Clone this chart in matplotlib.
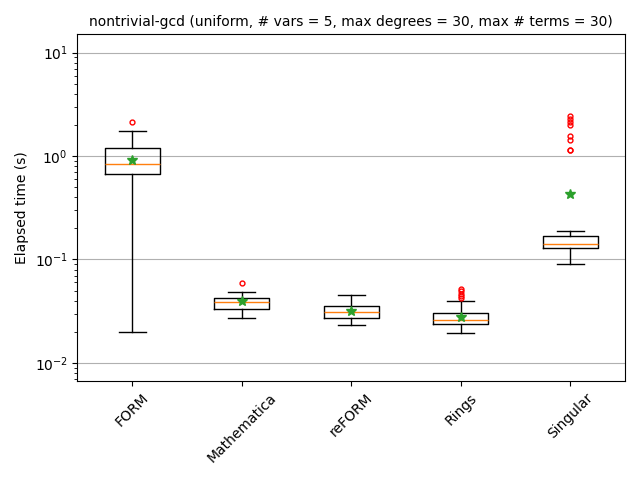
import matplotlib
matplotlib.use("Agg")
from matplotlib import pyplot as plt

programs = ["FORM", "Mathematica", "reFORM", "Rings", "Singular"]
whislo = [0.020, 0.0274, 0.0231, 0.0193, 0.090]
q1 = [0.67, 0.0335, 0.0274, 0.0236, 0.129]
med = [0.84, 0.0392, 0.0313, 0.0262, 0.140]
q3 = [1.19, 0.0428, 0.0358, 0.0304, 0.167]
whishi = [1.75, 0.049, 0.0451, 0.0401, 0.187]
means = [0.91, 0.0395, 0.0315, 0.0278, 0.426]
fliers = [
    [2.13],
    [0.0599],
    [],
    [0.0524, 0.0495, 0.0465, 0.0440, 0.0420],
    [2.45, 2.28, 2.12, 1.98, 1.56, 1.43, 1.15, 1.14],
]

stats = []
for i, name in enumerate(programs):
    stats.append({'label': name, 'whislo': whislo[i], 'q1': q1[i], 'med': med[i],
                  'q3': q3[i], 'whishi': whishi[i], 'mean': means[i], 'fliers': fliers[i]})

fig, ax = plt.subplots(figsize=(6.4, 4.8))
ax.bxp(stats, showmeans=True,
       flierprops=dict(marker='o', markeredgecolor='red', markerfacecolor='none', markersize=3.5),
       meanprops=dict(marker='*', markerfacecolor='tab:green', markeredgecolor='tab:green', markersize=7))
ax.set_yscale('log')
ax.set_ylim(0.0067, 15.0)
ax.yaxis.grid(True)
ax.set_axisbelow(True)
ax.set_ylabel('Elapsed time (s)')
ax.set_title('nontrivial-gcd (uniform, # vars = 5, max degrees = 30, max # terms = 30)', fontsize=10)
plt.setp(ax.get_xticklabels(), rotation=45)
fig.tight_layout()
plt.savefig('out.png')
